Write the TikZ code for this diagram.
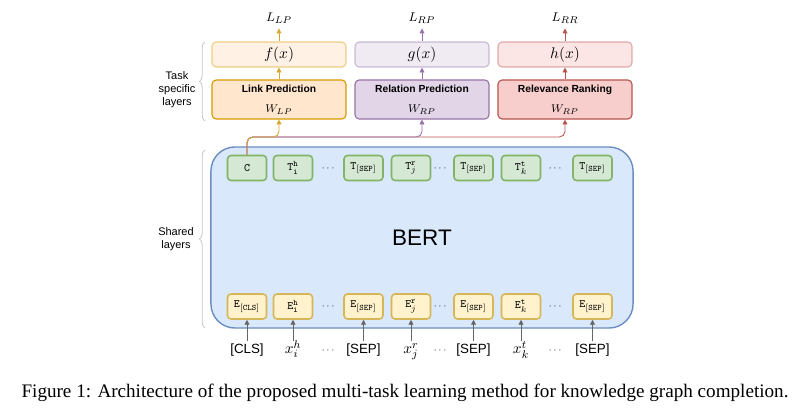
\documentclass[tikz,border=0pt]{standalone}
\usepackage{fontspec}
\setsansfont{Liberation Sans}
\newfontfamily\capfont{Liberation Serif}
\usepackage{amsmath}
\usetikzlibrary{arrows.meta,positioning,calc,decorations.pathreplacing}

\definecolor{lpfill}{HTML}{FFE6CC}
\definecolor{lpline}{HTML}{D79B00}
\definecolor{rpfill}{HTML}{E1D5E7}
\definecolor{rpline}{HTML}{9673A6}
\definecolor{rrfill}{HTML}{F8CECC}
\definecolor{rrline}{HTML}{B85450}
\definecolor{tokfill}{HTML}{D5E8D4}
\definecolor{tokline}{HTML}{82B366}
\definecolor{embfill}{HTML}{FFF2CC}
\definecolor{embline}{HTML}{D6B656}
\definecolor{bertfill}{HTML}{DAE8FC}
\definecolor{bertline}{HTML}{6C8EBF}
\definecolor{lparrow}{HTML}{D6A82E}

\tikzset{
  taskbox/.style={draw=#1line, fill=#1fill, rounded corners=3pt, line width=0.8pt,
    minimum width=33.5mm, minimum height=9.75mm, align=center, inner sep=1pt},
  headbox/.style={taskbox=#1, draw opacity=0.45, fill opacity=0.5, text opacity=1,
    minimum height=6.25mm, font=\fontsize{11}{12}\selectfont},
  tokbox/.style={draw=tokline, fill=tokfill, rounded corners=2.5pt, line width=1.1pt,
    minimum width=9.75mm, minimum height=6.25mm, inner sep=0pt,
    font=\fontsize{8}{9}\selectfont},
  embbox/.style={tokbox, draw=embline, fill=embfill},
  uparrow/.style={-{Triangle[length=3.5pt,width=3.5pt]}, line width=0.6pt, draw=#1},
  sidebrace/.style={decorate, decoration={brace, amplitude=4pt}, draw=gray!45, line width=0.6pt},
  sidelabel/.style={align=center, font=\sffamily\fontsize{7.8}{9.2}\selectfont},
  inlabel/.style={font=\sffamily\fontsize{9.5}{10}\selectfont, text height=7pt, text depth=2.5pt, inner sep=2pt},
  dots/.style={font=\fontsize{6}{6}\selectfont, inner sep=0pt},
  losslabel/.style={font=\fontsize{9.5}{10}\selectfont},
}

\begin{document}
\begin{tikzpicture}[x=0.025cm, y=-0.025cm]
\useasboundingbox (0,0) rectangle (800,412);

% task specific layers
\node[taskbox=lp] (lp) at (279,99.5) {{\sffamily\bfseries\fontsize{7.3}{8}\selectfont Link Prediction}\\[2pt]{\fontsize{8.5}{9}\selectfont $W_{LP}$}};
\node[taskbox=rp] (rp) at (422,99.5) {{\sffamily\bfseries\fontsize{7.3}{8}\selectfont Relation Prediction}\\[2pt]{\fontsize{8.5}{9}\selectfont $W_{RP}$}};
\node[taskbox=rr] (rr) at (565,99.5) {{\sffamily\bfseries\fontsize{7.3}{8}\selectfont Relevance Ranking}\\[2pt]{\fontsize{8.5}{9}\selectfont $W_{RP}$}};
\node[headbox=lp] (f) at (279,54.5) {$f(x)$};
\node[headbox=rp] (g) at (422,54.5) {$g(x)$};
\node[headbox=rr] (h) at (565,54.5) {$h(x)$};
\node[losslabel] (llp) at (279,18) {$L_{LP}$};
\node[losslabel] (lrp) at (422,18) {$L_{RP}$};
\node[losslabel] (lrr) at (565,18) {$L_{RR}$};
\draw[uparrow=lparrow] (lp) -- (f);
\draw[uparrow=rpline] (rp) -- (g);
\draw[uparrow=rrline] (rr) -- (h);
\draw[uparrow=lparrow] (f) -- (llp);
\draw[uparrow=rpline] (g) -- (lrp);
\draw[uparrow=rrline] (h) -- (lrr);

% shared layers
\node[draw=bertline, fill=bertfill, line width=1pt, rounded corners=6mm,
  minimum width=105.5mm, minimum height=45.25mm,
  font=\sffamily\fontsize{16}{18}\selectfont] (bert) at (422,237.5) {BERT};

\foreach \x/\n/\tlab/\elab/\ilab in {
    247/1/{$\mathtt{C}$}/{$\mathtt{E}_{\mathtt{[CLS]}}$}/{[CLS]},
    293/2/{$\mathtt{T}^{\mathtt{h}}_{\mathtt{i}}$}/{$\mathtt{E}^{\mathtt{h}}_{\mathtt{i}}$}/{\fontsize{11}{12}\selectfont$x_i^h$},
    363.5/3/{$\mathtt{T}_{\mathtt{[SEP]}}$}/{$\mathtt{E}_{\mathtt{[SEP]}}$}/{[SEP]},
    411/4/{$\mathtt{T}^{\mathtt{r}}_{j}$}/{$\mathtt{E}^{\mathtt{r}}_{j}$}/{\fontsize{11}{12}\selectfont$x_j^r$},
    473.5/5/{$\mathtt{T}_{\mathtt{[SEP]}}$}/{$\mathtt{E}_{\mathtt{[SEP]}}$}/{[SEP]},
    521/6/{$\mathtt{T}^{\mathtt{t}}_{k}$}/{$\mathtt{E}^{\mathtt{t}}_{k}$}/{\fontsize{11}{12}\selectfont$x_k^t$},
    592.5/7/{$\mathtt{T}_{\mathtt{[SEP]}}$}/{$\mathtt{E}_{\mathtt{[SEP]}}$}/{[SEP]}}{
  \node[tokbox] (t\n) at (\x,168) {\tlab};
  \node[embbox] (e\n) at (\x,306.5) {\elab};
  \node[inlabel] (in\n) at (\x,350.5) {\ilab};
  \draw[uparrow=black!60] (in\n) -- (e\n);
}
\foreach \x/\n in {329/1, 441/2, 556/3}{
  \node[dots] (tdots\n) at (\x,168) {$\cdots$};
  \node[dots] (edots\n) at (\x,306.5) {$\cdots$};
  \node[dots] (idots\n) at (\x,350.5) {$\cdots$};
}

% C token to the three tasks
\coordinate (split) at (0,137);
\draw[uparrow=rrline, rounded corners=4pt] (t1.north) |- (rr.south |- split) -- (rr.south);
\draw[uparrow=rpline, rounded corners=4pt] (t1.north) |- (rp.south |- split) -- (rp.south);
\draw[uparrow=lparrow, rounded corners=4pt] (t1.north) |- (lp.south |- split) -- (lp.south);

% braces and side labels
\draw[sidebrace] (205,121) -- (205,42);
\node[sidelabel] (tasklab) at (177,90) {Task\\specific\\layers};
\draw[sidebrace] (205,328) -- (205,150);
\node[sidelabel] (sharedlab) at (176,239) {Shared\\layers};

\node[font=\capfont\fontsize{13.6}{15}\selectfont] (caption) at (405,393)
  {Figure 1: Architecture of the proposed multi-task learning method for knowledge graph completion.};
\end{tikzpicture}
\end{document}
